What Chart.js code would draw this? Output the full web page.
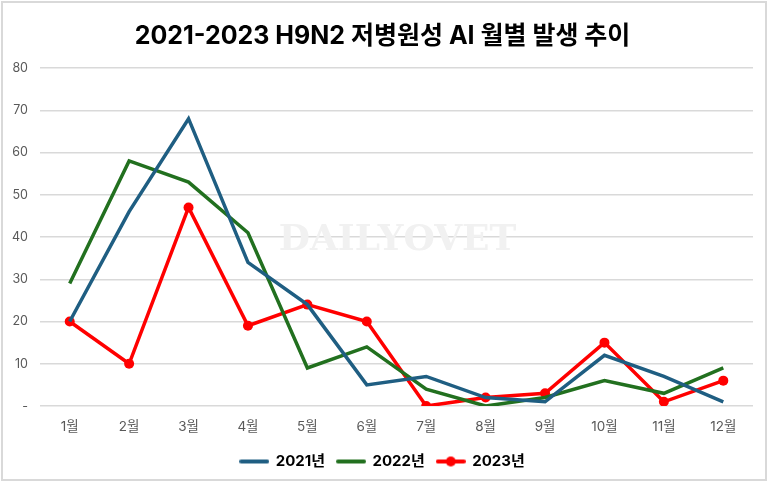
<!DOCTYPE html>
<html>
<head>
<meta charset="utf-8">
<script src="https://cdn.jsdelivr.net/npm/chart.js@4"></script>
<style>
  html, body { margin: 0; padding: 0; background: #fff; }
  #frame {
    position: absolute; left: 1px; top: 1px;
    width: 766px; height: 480px;
    border: 2px solid #d9d9d9; box-sizing: border-box;
  }
  #chart { position: absolute; left: 0; top: 0; }
</style>
</head>
<body>
<div id="frame"></div>
<canvas id="chart" width="768" height="482"></canvas>
<script>
// Monthly H9N2 LPAI outbreaks
const months = ['1월', '2월', '3월', '4월', '5월', '6월', '7월', '8월', '9월', '10월', '11월', '12월'];
const cases2021 = [20, 46, 68, 34, 24, 5, 7, 2, 1, 12, 7, 1];
const cases2022 = [29, 58, 53, 41, 9, 14, 4, 0, 2, 6, 3, 9];
const cases2023 = [20, 10, 47, 19, 24, 20, 0, 2, 3, 15, 1, 6];
const yTicks = [0, 10, 20, 30, 40, 50, 60, 70, 80];

const colors = { y2021: '#1f5e82', y2022: '#22701f', y2023: '#ff0000' };
const FONT = "Inter, 'Noto Sans CJK KR', sans-serif";

// small canvas used as legend marker (line, optional dot)
function legendMarker(color, withDot) {
    const c = document.createElement('canvas');
    c.width = 30; c.height = 12;
    const g = c.getContext('2d');
    g.strokeStyle = color;
    g.lineWidth = 4;
    g.lineCap = 'round';
    g.beginPath(); g.moveTo(2, 6); g.lineTo(28, 6); g.stroke();
    if (withDot) {
        g.fillStyle = color;
        g.beginPath(); g.arc(15, 6, 5, 0, Math.PI * 2); g.fill();
    }
    return c;
}

// faint watermark behind the lines
const watermark = {
    id: 'watermark',
    beforeDatasetsDraw(chart) {
        const { ctx, chartArea } = chart;
        ctx.save();
        ctx.fillStyle = '#f1f1f1';
        ctx.font = "bold 36px 'DejaVu Serif', serif";
        ctx.textAlign = 'center';
        ctx.textBaseline = 'middle';
        ctx.fillText('DAILYOVET', (chartArea.left + chartArea.right) / 2 + 1, 241);
        ctx.restore();
    }
};

new Chart(document.getElementById('chart'), {
    type: 'line',
    data: {
        labels: months,
        datasets: [
            {
                label: '2021년',
                data: cases2021,
                borderColor: colors.y2021,
                backgroundColor: colors.y2021,
                borderWidth: 3.5,
                pointRadius: 0,
                tension: 0
            },
            {
                label: '2022년',
                data: cases2022,
                borderColor: colors.y2022,
                backgroundColor: colors.y2022,
                borderWidth: 3.5,
                pointRadius: 0,
                tension: 0
            },
            {
                label: '2023년',
                data: cases2023,
                borderColor: colors.y2023,
                backgroundColor: colors.y2023,
                borderWidth: 3.5,
                pointRadius: 5,
                pointBackgroundColor: colors.y2023,
                pointBorderWidth: 0,
                tension: 0
            }
        ]
    },
    options: {
        responsive: false,
        animation: false,
        layout: { padding: { left: 12, right: 15, top: 0, bottom: 3 } },
        scales: {
            x: {
                offset: true,
                grid: { display: false },
                border: { display: false },
                afterFit: (scale) => { scale.height = 36; },
                ticks: { color: '#595959', font: { family: FONT, size: 13.5 }, padding: 5 }
            },
            y: {
                min: 0,
                max: 80,
                afterBuildTicks: (scale) => { scale.ticks = yTicks.map(v => ({ value: v })); },
                afterFit: (scale) => { scale.width = 28; },
                grid: { color: '#d9d9d9', lineWidth: 1.5, drawTicks: false },
                border: { display: false },
                ticks: {
                    color: '#595959',
                    font: { family: FONT, size: 12.5 },
                    padding: 12,
                    callback: (v) => v === 0 ? '-' : v
                }
            }
        },
        plugins: {
            title: {
                display: true,
                text: '2021-2023 H9N2 저병원성 AI 월별 발생 추이',
                color: '#000',
                font: { family: FONT, size: 25, weight: 'bold' },
                padding: { top: 21, bottom: 17 }
            },
            legend: {
                position: 'bottom',
                labels: {
                    usePointStyle: true,
                    pointStyleWidth: 28,
                    color: '#000',
                    font: { family: FONT, size: 15, weight: 'bold' },
                    padding: 12,
                    generateLabels: (chart) => chart.data.datasets.map((ds, i) => ({
                        text: ds.label,
                        pointStyle: legendMarker(ds.borderColor, i === 2),
                        fillStyle: ds.borderColor,
                        strokeStyle: ds.borderColor,
                        lineWidth: 0,
                        fontColor: '#000',
                        datasetIndex: i
                    }))
                }
            },
            tooltip: { enabled: false }
        }
    },
    plugins: [watermark]
});
</script>
</body>
</html>
